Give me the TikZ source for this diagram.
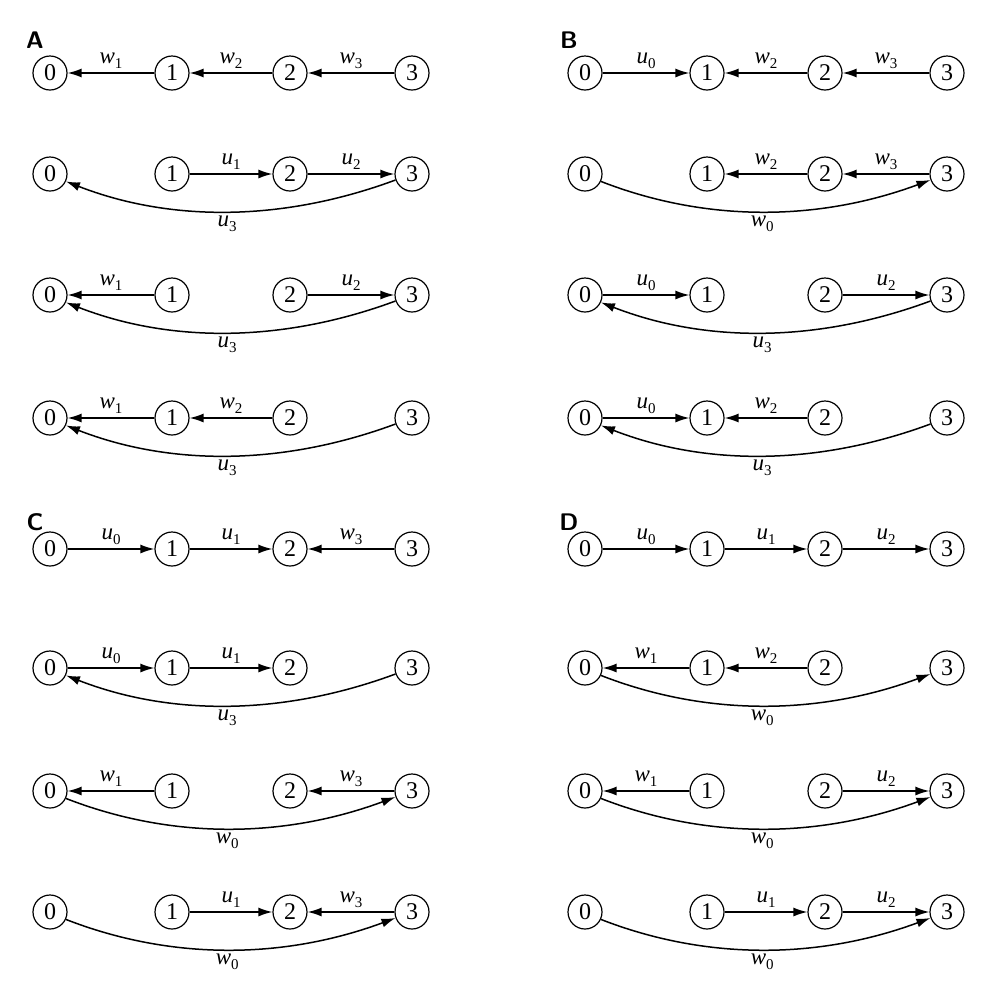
\documentclass[tikz,border=0pt]{standalone}
\usepackage{fontspec}
\setmainfont{Liberation Serif}
\usetikzlibrary{arrows.meta,calc}
\begin{document}
\begin{tikzpicture}[x=1pt,y=-1pt,
  nd/.style={circle,draw,line width=1.2pt,minimum size=34pt,inner sep=0pt,font=\fontsize{24}{26}\selectfont},
  arr/.style={line width=1.5pt,-{Latex[length=14pt,width=9pt]}},
  lab/.style={font=\fontsize{23}{26}\selectfont},
  pl/.style={font=\fontsize{24}{26}\selectfont\sffamily\bfseries}]
\useasboundingbox (0,0) rectangle (997,1005);
\newcommand\Lb[2]{\textit{#1}\raisebox{-5pt}{\fontsize{15}{15}\selectfont #2}}
\newcommand\Nodes[3]{%
  \node[nd] (#1-0) at (#2,#3) {0};
  \node[nd] (#1-1) at (#2+122,#3) {1};
  \node[nd] (#1-2) at (#2+240,#3) {2};
  \node[nd] (#1-3) at (#2+362,#3) {3};}
\newcommand\E[5]{\draw[arr] (#1-#2) -- node[lab,above=0pt] {\Lb{#4}{#5}} (#1-#3);}
\newcommand\Cu[3]{\draw[arr] (#1-3.200) .. controls ($(#1-3)+(-130,48)$) and ($(#1-0)+(120,48)$) .. node[lab,below=0pt] {\Lb{#2}{#3}} (#1-0.-25);}
\newcommand\Cw[3]{\draw[arr] (#1-0.-25) .. controls ($(#1-0)+(120,48)$) and ($(#1-3)+(-130,48)$) .. node[lab,below=0pt] {\Lb{#2}{#3}} (#1-3.200);}
\node[pl] at (35,40) {A};
\node[pl] at (569,40) {B};
\node[pl] at (35,522) {C};
\node[pl] at (569,522) {D};
% A
\Nodes{a1}{50}{73} \E{a1}{1}{0}{w}{1}\E{a1}{2}{1}{w}{2}\E{a1}{3}{2}{w}{3}
\Nodes{a2}{50}{174} \E{a2}{1}{2}{u}{1}\E{a2}{2}{3}{u}{2}\Cu{a2}{u}{3}
\Nodes{a3}{50}{295} \E{a3}{1}{0}{w}{1}\E{a3}{2}{3}{u}{2}\Cu{a3}{u}{3}
\Nodes{a4}{50}{418} \E{a4}{1}{0}{w}{1}\E{a4}{2}{1}{w}{2}\Cu{a4}{u}{3}
% B
\Nodes{b1}{585}{73} \E{b1}{0}{1}{u}{0}\E{b1}{2}{1}{w}{2}\E{b1}{3}{2}{w}{3}
\Nodes{b2}{585}{174} \E{b2}{2}{1}{w}{2}\E{b2}{3}{2}{w}{3}\Cw{b2}{w}{0}
\Nodes{b3}{585}{295} \E{b3}{0}{1}{u}{0}\E{b3}{2}{3}{u}{2}\Cu{b3}{u}{3}
\Nodes{b4}{585}{418} \E{b4}{0}{1}{u}{0}\E{b4}{2}{1}{w}{2}\Cu{b4}{u}{3}
% C
\Nodes{c1}{50}{549} \E{c1}{0}{1}{u}{0}\E{c1}{1}{2}{u}{1}\E{c1}{3}{2}{w}{3}
\Nodes{c2}{50}{668} \E{c2}{0}{1}{u}{0}\E{c2}{1}{2}{u}{1}\Cu{c2}{u}{3}
\Nodes{c3}{50}{791} \E{c3}{1}{0}{w}{1}\E{c3}{3}{2}{w}{3}\Cw{c3}{w}{0}
\Nodes{c4}{50}{912} \E{c4}{1}{2}{u}{1}\E{c4}{3}{2}{w}{3}\Cw{c4}{w}{0}
% D
\Nodes{d1}{585}{549} \E{d1}{0}{1}{u}{0}\E{d1}{1}{2}{u}{1}\E{d1}{2}{3}{u}{2}
\Nodes{d2}{585}{668} \E{d2}{1}{0}{w}{1}\E{d2}{2}{1}{w}{2}\Cw{d2}{w}{0}
\Nodes{d3}{585}{791} \E{d3}{1}{0}{w}{1}\E{d3}{2}{3}{u}{2}\Cw{d3}{w}{0}
\Nodes{d4}{585}{912} \E{d4}{1}{2}{u}{1}\E{d4}{2}{3}{u}{2}\Cw{d4}{w}{0}
\end{tikzpicture}
\end{document}
